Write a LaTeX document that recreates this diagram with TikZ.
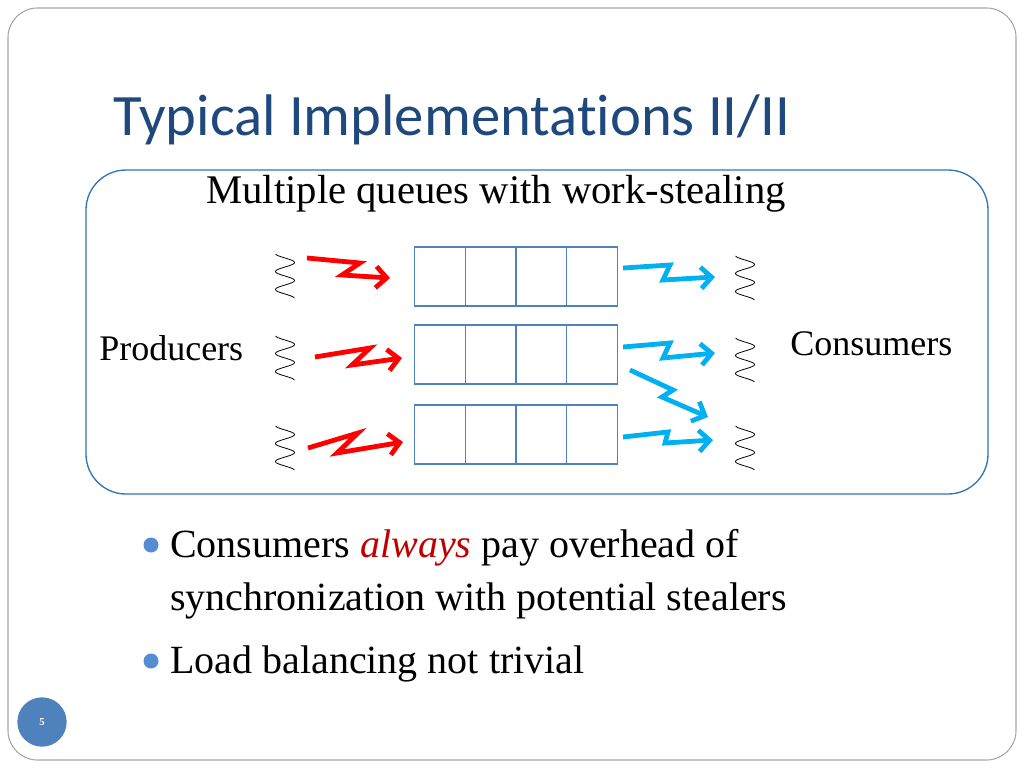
\documentclass[tikz,border=0pt]{standalone}
\usepackage{fontspec}
\setmainfont{Liberation Serif}
\newfontfamily\titlefont[Ligatures=NoCommon]{Carlito}
\usetikzlibrary{arrows.meta}
\definecolor{titleblue}{RGB}{31,73,125}
\definecolor{boxblue}{RGB}{46,117,182}
\definecolor{cellblue}{RGB}{79,129,189}
\definecolor{bulletblue}{RGB}{84,141,212}
\definecolor{prodred}{RGB}{255,0,0}
\definecolor{conscyan}{RGB}{0,176,240}
\definecolor{darkred}{RGB}{192,0,0}
\tikzset{
  cell/.style={draw=cellblue, line width=0.9pt, minimum width=37.9pt, minimum height=44.3pt, inner sep=0pt},
  prod/.style={draw=prodred, line width=3.6pt, line join=miter, -{Straight Barb[length=8pt,width=16pt]}},
  cons/.style={draw=conscyan, line width=3.6pt, line join=miter, -{Straight Barb[length=8pt,width=16pt]}},
  bodytext/.style={anchor=base west, inner sep=0pt, font=\fontsize{30}{36}\selectfont}
}
\newcommand\squig[2]{\draw[line width=0.6pt, shift={(#1,#2)}] plot[domain=-22:22, smooth, samples=80] ({9.5*sin(\x*20)},\x);}
\begin{document}
\begin{tikzpicture}[x=0.75pt, y=-0.75pt]
\useasboundingbox (0,0) rectangle (1024,768);
\draw[gray!70, line width=0.8pt, rounded corners=22pt] (8,8) rectangle (1016,760);
\node[anchor=base west, inner sep=0pt, text=titleblue, font=\titlefont\fontsize{44}{48}\selectfont] (title) at (113,135) {Typical Implementations II/II};
\draw[boxblue, line width=1pt, rounded corners=30pt] (86,170) rectangle (988,494);
\node[anchor=base, inner sep=0pt, font=\fontsize{30.5}{36}\selectfont] (heading) at (496,203) {Multiple queues with work-stealing};
% queues
\foreach \r/\y in {1/276.5, 2/354.5, 3/434.5}{
  \foreach \c/\x in {1/440, 2/490.5, 3/541.5, 4/592}{
    \node[cell] (q\r c\c) at (\x,\y) {};
  }
}
\node[anchor=base west, inner sep=0pt, font=\fontsize{27}{32}\selectfont] (prodlabel) at (99,360) {Producers};
\node[anchor=base west, inner sep=0pt, font=\fontsize{27}{32}\selectfont] (conslabel) at (790,355) {Consumers};
% threads
\squig{285}{276}
\squig{285}{358}
\squig{285}{448}
\squig{745}{278}
\squig{745}{360}
\squig{745}{448}
% producer arrows
\draw[prod] (307,258) -- (360,263) -- (342,275) -- (390,278);
\draw[prod] (315,357) -- (370,348) -- (352,365) -- (402,358);
\draw[prod] (308,448) -- (358,433) -- (337,453) -- (403,442);
% consumer arrows
\draw[cons] (623,268) -- (670,265) -- (663,280) -- (715,277);
\draw[cons] (623,347) -- (670,343) -- (663,358) -- (715,353);
\draw[cons] (630,370) -- (673,390) -- (662,397) -- (708,417);
\draw[cons] (623,437) -- (668,432) -- (665,443) -- (713,440);
% bullets
\fill[bulletblue] (151,545) circle (7.5);
\node[bodytext] (b1) at (170,557) {Consumers \textcolor{darkred}{\textit{always}} pay overhead of};
\node[bodytext] (b1b) at (170,610) {synchronization with potential stealers};
\fill[bulletblue] (151,661) circle (7.5);
\node[bodytext] (b2) at (170,673) {Load balancing not trivial};
\node[circle, fill=cellblue, minimum size=37pt, inner sep=0pt, text=white, font=\bfseries\fontsize{8}{9}\selectfont] (page) at (42,722) {5};
\end{tikzpicture}
\end{document}
